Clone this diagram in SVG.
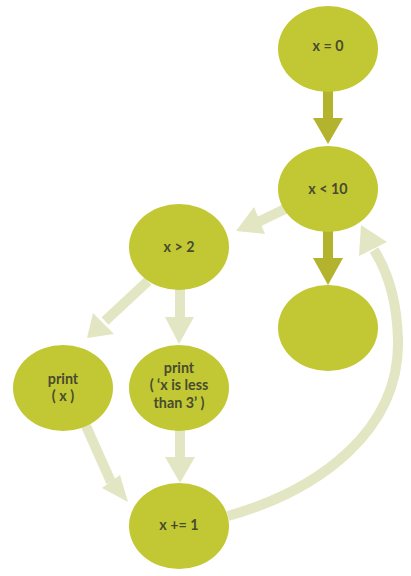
<svg xmlns="http://www.w3.org/2000/svg" width="411" height="576" viewBox="0 0 411 576">
<style>
.node{fill:#c2c833}
.lbl{font-family:Lato,"Liberation Sans",sans-serif;font-weight:bold;font-size:14.3px;fill:#484b30;text-anchor:middle}
.dark{fill:#b3b32e}
.light{fill:#e3e6c3}
.lline{fill:none;stroke:#e3e6c3;stroke-width:10}
</style>
<rect width="411" height="576" fill="#ffffff"/>
<g id="connectors">
  <rect class="dark" x="323" y="90" width="10" height="30"/>
  <polygon class="dark" points="313,118 343,118 328,144"/>
  <rect class="dark" x="323" y="229" width="10" height="31"/>
  <polygon class="dark" points="313,258 343,258 328,285"/>
  <line class="lline" x1="285" y1="209" x2="258" y2="222"/>
  <polygon class="light" points="236,231 254,207 265,234"/>
  <line class="lline" x1="148" y1="281" x2="105" y2="321"/>
  <polygon class="light" points="87,338 93,313 114,334"/>
  <rect class="light" x="175" y="288" width="10" height="31"/>
  <polygon class="light" points="165,317 194,317 179,344"/>
  <line class="lline" x1="86" y1="426" x2="111" y2="482"/>
  <polygon class="light" points="128,502 102,488 120,475"/>
  <rect class="light" x="175" y="429" width="10" height="30"/>
  <polygon class="light" points="165,457 195,457 180,483"/>
  <path class="lline" d="M 228 516 C 320 490 400 430 398 340 C 397 300 388 272 374 250"/>
  <polygon class="light" points="361,225 359,256 387,242"/>
</g>
<g id="node-x0">
  <ellipse class="node" cx="328" cy="49" rx="50" ry="43"/>
  <text class="lbl" x="328" y="51">x = 0</text>
</g>
<g id="node-xlt10">
  <ellipse class="node" cx="328" cy="189" rx="50" ry="43"/>
  <text class="lbl" x="328" y="194">x &lt; 10</text>
</g>
<g id="node-xgt2">
  <ellipse class="node" cx="179" cy="247" rx="50" ry="43"/>
  <text class="lbl" x="179" y="252">x &gt; 2</text>
</g>
<g id="node-end">
  <ellipse class="node" cx="328" cy="328" rx="50" ry="43"/>
</g>
<g id="node-printx">
  <ellipse class="node" cx="63" cy="388" rx="50" ry="43"/>
  <text class="lbl" x="63" y="384">print</text>
  <text class="lbl" x="63" y="401">( x )</text>
</g>
<g id="node-printless">
  <ellipse class="node" cx="179" cy="388" rx="50" ry="43"/>
  <text class="lbl" x="179" y="373">print</text>
  <text class="lbl" x="179" y="390">( ‘x is less</text>
  <text class="lbl" x="179" y="408">than 3’ )</text>
</g>
<g id="node-inc">
  <ellipse class="node" cx="179" cy="526" rx="50" ry="43"/>
  <text class="lbl" x="179" y="530">x += 1</text>
</g>
</svg>
